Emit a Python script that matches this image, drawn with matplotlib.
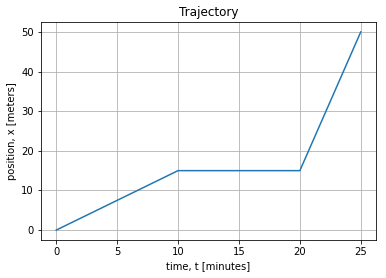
import matplotlib
matplotlib.use("Agg")
import matplotlib.pyplot as plt

t = [0, 10, 20, 25]
x = [0, 15, 15, 50]

fig = plt.figure(figsize=(386/72, 278/72), dpi=72)
ax = fig.add_axes([41/386, 1-240/278, (376-41)/386, (240-22)/278])
ax.plot(t, x)
ax.set_title("Trajectory")
ax.set_xlabel("time, t [minutes]")
ax.set_ylabel("position, x [meters]")
ax.grid(True)
fig.savefig("out.png", dpi=72)
